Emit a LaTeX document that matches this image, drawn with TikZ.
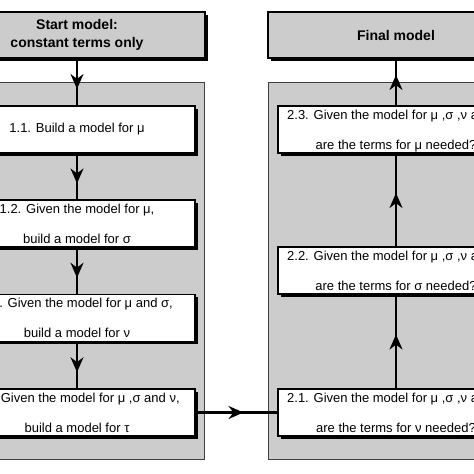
\documentclass[tikz,border=0pt]{standalone}
\usepackage{fontspec}
\setmainfont{Liberation Sans}
\usetikzlibrary{arrows.meta,decorations.markings,shadows}

\newcommand{\twoline}[2]{\rule{0pt}{9.5pt}#1\\[14.4pt]\smash{#2}}

\begin{document}
\begin{tikzpicture}
	 [x=1pt,y=-1pt,
	  every node/.style={font=\fontsize{13}{15.6}\selectfont},
	  panel/.style={rectangle,draw=black!75,line width=.9pt,fill=black!20,minimum width=255pt,minimum height=377pt},
	  title/.style={rectangle,draw,line width=1.4pt,fill=black!20,minimum width=256pt,minimum height=46pt,inner sep=0pt,align=center,
	    font=\fontsize{14}{18}\selectfont\bfseries,drop shadow={fill=black,opacity=1,shadow xshift=2.5pt,shadow yshift=-2.5pt}},
	  stepbox/.style={rectangle,draw,line width=1.4pt,fill=white,minimum width=236pt,minimum height=47pt,inner sep=0pt,align=center,
	    drop shadow={fill=black,opacity=1,shadow xshift=2.5pt,shadow yshift=-2.5pt}},
	  flow/.style={line width=2.2pt,postaction={decorate},
	    decoration={markings,mark=at position .5 with {\pgftransformxshift{7pt}\arrow{Stealth[length=15pt,width=13pt]}}}}]
	\useasboundingbox (0,0) rectangle (474,474);
	\clip (0,0) rectangle (474,474);

	\node[panel] (lpanel) at (76.5,270.5) {};
	\node[panel] (rpanel) at (396,270.5) {};

	\node[title] (start) at (77,35) {Start model:\\constant terms only};
	\node[title] (final) at (396,35) {Final model};

	  \node[stepbox] (s11) at (77,129.5) {1.1. Build a model for μ};
	  \node[stepbox] (s12) at (77,223.5) {\twoline{1.2. Given the model for μ,}{build a model for σ}};
	  \node[stepbox] (s13) at (77,318) {\twoline{1.3. Given the model for μ and σ,}{build a model for ν}};
	  \node[stepbox] (s14) at (77,412.5) {\twoline{1.4. Given the model for μ ,σ and ν,}{build a model for τ}};

	  \node[stepbox] (s21) at (396,412.5) {\twoline{2.1. Given the model for μ ,σ ,ν and τ,}{are the terms for ν needed?}};
	  \node[stepbox] (s22) at (396,270.5) {\twoline{2.2. Given the model for μ ,σ ,ν and τ,}{are the terms for σ needed?}};
	  \node[stepbox] (s23) at (396,129.5) {\twoline{2.3. Given the model for μ ,σ ,ν and τ,}{are the terms for μ needed?}};

	\foreach \from/\to in {start/s11,s11/s12,s12/s13,s13/s14,s14/s21,s21/s22,s22/s23,s23/final}
    \draw[flow] (\from) -- (\to);

\end{tikzpicture}
\end{document}
